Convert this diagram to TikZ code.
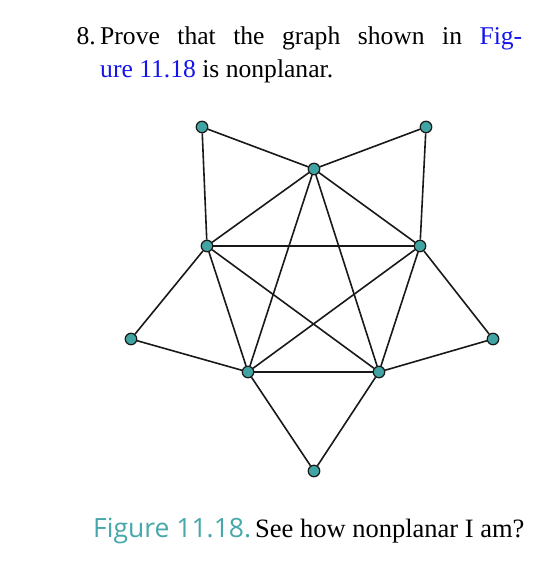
\documentclass[tikz,border=0pt]{standalone}
\usepackage{fontspec}
\setmainfont{Liberation Serif}
\newfontfamily\capfont{Open Sans}
\definecolor{nodeteal}{RGB}{66,163,163}
\definecolor{capteal}{RGB}{70,168,170}
\definecolor{linkblue}{RGB}{20,20,235}
\definecolor{edgecol}{RGB}{25,25,25}
\begin{document}
\begin{tikzpicture}[x=1bp,y=1bp,
  vtx/.style={circle,draw=edgecol,line width=1.2bp,fill=nodeteal,minimum size=11.5bp,inner sep=0pt},
  edge/.style={draw=edgecol,line width=1.6bp},
  body/.style={font=\fontsize{25.6bp}{30bp}\selectfont}]
\useasboundingbox (0,0) rectangle (546,570);
% text
\node[anchor=base east,inner sep=0pt,body] (num) at (96,525) {8.};
\node[anchor=base west,inner sep=0pt,body] (l1) at (100,525)
  {\makebox[422bp][s]{Prove that the graph shown in \textcolor{linkblue}{Fig-}}};
\node[anchor=base west,inner sep=0pt,body] (l2) at (100,492)
  {\textcolor{linkblue}{ure 11.18} is nonplanar.};
\node[anchor=base west,inner sep=0pt] (cap) at (93,32)
  {\capfont\fontsize{26.5bp}{30bp}\selectfont\textcolor{capteal}{Figure 11.18.}\hspace{4bp}\fontsize{26.5bp}{30bp}\rmfamily See how nonplanar I am?};
% vertices
\node[vtx] (o1) at (202,443) {};
\node[vtx] (o2) at (426,443) {};
\node[vtx] (o3) at (131,231) {};
\node[vtx] (o4) at (493,231) {};
\node[vtx] (o5) at (314,99) {};
\node[vtx] (i1) at (314,401) {};
\node[vtx] (i2) at (207,324) {};
\node[vtx] (i3) at (420,324) {};
\node[vtx] (i4) at (248,198) {};
\node[vtx] (i5) at (379,198) {};
\foreach \a/\b in {o1/i1,o1/i2,o2/i1,o2/i3,o3/i2,o3/i4,o4/i3,o4/i5,o5/i4,o5/i5,
  i1/i2,i1/i3,i1/i4,i1/i5,i2/i3,i2/i4,i2/i5,i3/i4,i3/i5,i4/i5}
  \draw[edge] (\a) -- (\b);
\end{tikzpicture}
\end{document}
